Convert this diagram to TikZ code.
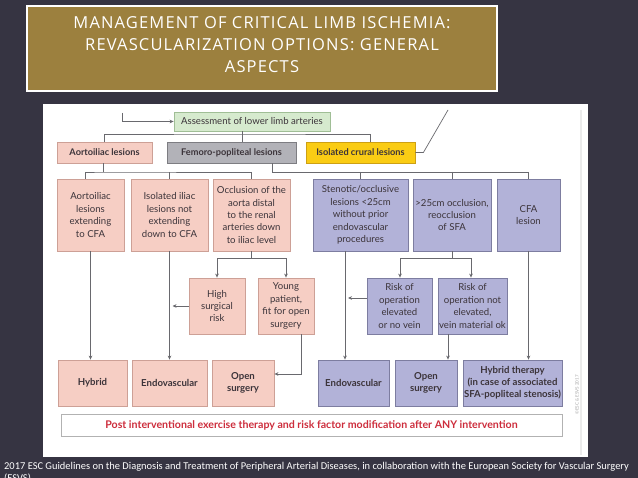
\documentclass[tikz,border=0pt]{standalone}
\usepackage{fontspec}
\setmainfont{Lato}
\newfontfamily\titlefont[LetterSpace=7]{Open Sans}
\newfontfamily\notefont{Carlito}
\usetikzlibrary{arrows.meta,positioning}

\definecolor{slidebg}{RGB}{54,52,66}
\definecolor{titlegold}{RGB}{156,128,62}
\definecolor{pinkfill}{RGB}{246,206,196}
\definecolor{pinkdraw}{RGB}{205,160,150}
\definecolor{lilacfill}{RGB}{178,178,216}
\definecolor{lilacdraw}{RGB}{125,125,160}
\definecolor{greyfill}{RGB}{178,178,184}
\definecolor{greydraw}{RGB}{125,125,130}
\definecolor{yellowfill}{RGB}{250,204,20}
\definecolor{yellowdraw}{RGB}{205,160,20}
\definecolor{greenfill}{RGB}{214,234,206}
\definecolor{greendraw}{RGB}{160,190,150}
\definecolor{inkgray}{RGB}{60,52,58}
\definecolor{wirecol}{RGB}{105,105,110}
\definecolor{alertred}{RGB}{205,45,60}

\begin{document}
\begin{tikzpicture}[
  x=1pt, y=-1pt,
  every node/.style={font=\fontsize{9.6}{12.4}\selectfont, text=inkgray},
  box/.style={rectangle, line width=0.8pt, align=center, inner sep=0.5pt},
  greenbox/.style={box, draw=greendraw, fill=greenfill, minimum height=19pt},
  headbox/.style={box, minimum height=21pt, font=\fontsize{9.2}{11}\selectfont\bfseries},
  pinkbox/.style={box, draw=pinkdraw, fill=pinkfill},
  lilacbox/.style={box, draw=lilacdraw, fill=lilacfill},
  tallbox/.style={minimum height=72pt},
  midbox/.style={minimum height=56pt},
  lowbox/.style={minimum height=46pt, font=\fontsize{9.6}{12}\selectfont\bfseries},
  wire/.style={draw=wirecol, line width=0.7pt},
  arrow/.style={wire, -{Stealth[length=4pt, width=3.6pt]}}
]

% Slide background
\fill[slidebg] (0,0) rectangle (638,478);
\useasboundingbox (0,0) rectangle (638,478);

% Title bar
\node[fill=titlegold, draw=white, line width=1.6pt, minimum width=470pt, minimum height=85pt] (titlebar) at (262,48.5) {};
\node[align=center, text=white, font=\titlefont\fontsize{16.5}{22}\selectfont] (title) at (262,44.5)
  {MANAGEMENT OF CRITICAL LIMB ISCHEMIA:\\REVASCULARIZATION OPTIONS: GENERAL\\ASPECTS};

% White figure panel
\fill[white] (43,104) rectangle (588,457);
\draw[black!8, line width=1.2pt] (581,110) -- (581,455);
\node[rotate=90, font=\fontsize{4.5}{5}\selectfont, text=black!35] (copy) at (577,395) {\textcopyright ESC \& ESVS 2017};

% Assessment and lesion types
\node[greenbox, minimum width=156pt] (assess) at (252,121.5) {Assessment of lower limb arteries};
\node[headbox, pinkbox, minimum width=95pt] (aorto) at (104.5,152.5) {Aortoiliac lesions};
\node[headbox, draw=greydraw, fill=greyfill, minimum width=129pt] (femoro) at (231.5,152.5) {Femoro-popliteal lesions};
\node[headbox, draw=yellowdraw, fill=yellowfill, minimum width=109pt] (crural) at (360.5,152.5) {Isolated crural lesions};

% Aortoiliac branch
\node[pinkbox, tallbox, minimum width=67pt] (boxA) at (90.5,215) {Aortoiliac\\lesions\\extending\\to CFA};
\node[pinkbox, tallbox, minimum width=77pt] (boxB) at (169.5,215) {Isolated iliac\\lesions not\\extending\\down to CFA};
\node[pinkbox, tallbox, minimum width=77pt] (boxC) at (251.5,215) {Occlusion of the\\aorta distal\\to the renal\\arteries down\\to iliac level};
\node[pinkbox, midbox, minimum width=56pt] (highrisk) at (217,306) {High\\surgical\\risk};
\node[pinkbox, midbox, minimum width=56pt] (young) at (286,306) {Young\\patient,\\fit for open\\surgery};
\node[pinkbox, lowbox, minimum width=69pt] (hybridA) at (92.5,383) {Hybrid};
\node[pinkbox, lowbox, minimum width=75pt] (endoA) at (169.5,383) {Endovascular};
\node[pinkbox, lowbox, minimum width=62pt] (openA) at (243,383) {Open\\surgery};

% Femoro-popliteal branch
\node[lilacbox, tallbox, minimum width=95pt] (stenotic) at (360.5,215) {Stenotic/occlusive\\lesions <25cm\\without prior\\endovascular\\procedures};
\node[lilacbox, tallbox, minimum width=78pt] (longocc) at (452,215) {>25cm occlusion,\\reocclusion\\of SFA};
\node[lilacbox, tallbox, minimum width=63pt] (cfa) at (528.5,215) {CFA\\lesion};
\node[lilacbox, midbox, minimum width=65pt] (riskhigh) at (399.5,306) {Risk of\\operation\\elevated\\or no vein};
\node[lilacbox, midbox, minimum width=69pt] (risklow) at (472.5,306) {Risk of\\operation not\\elevated,\\vein material ok};
\node[lilacbox, lowbox, minimum width=71pt] (endoF) at (353.5,383) {Endovascular};
\node[lilacbox, lowbox, minimum width=62pt] (openF) at (426,383) {Open\\surgery};
\node[lilacbox, lowbox, minimum width=99pt] (hybridF) at (512.5,383) {Hybrid therapy\\(in case of associated\\SFA-popliteal stenosis)};

% Follow-up bar
\node[box, draw=black!30, fill=white, minimum width=501pt, minimum height=22pt, text=alertred, font=\fontsize{10.6}{12}\selectfont\bfseries] (post) at (311.5,425)
  {Post interventional exercise therapy and risk factor modification after ANY intervention};

% Connectors at the top
\coordinate (inlet) at (122,113);
\coordinate (skew) at (448,110);
\coordinate (j1) at (242,134);
\coordinate (j2) at (103,172);
\coordinate (j3) at (272,172);
\draw[arrow] (inlet) |- (assess.west);
\draw[wire] (crural.east) -- ++(8,0) -- (skew);
\draw[wire] (assess.south -| j1) -- (femoro.north -| j1);
\draw[wire] (aorto.north) |- (j1) -| ([xshift=9.5pt]crural.north);

% Aortoiliac connectors
\draw[wire] (aorto.south -| j2) -- (j2);
\draw[wire] ([xshift=-5.5pt]boxA.north) |- (j2) -| (boxC.north);
\draw[wire] (boxB.north) -- (boxB.north |- j2);
\draw[wire] (boxC.south) -- ++(0,7) coordinate (j4);
\draw[arrow] (j4) -| (highrisk.north);
\draw[arrow] (j4) -| (young.north);
\draw[arrow] (boxA.south) -- (boxA.south |- hybridA.north);
\draw[arrow] (boxB.south) -- (boxB.south |- endoA.north);
\draw[arrow] (highrisk.west) -- ([xshift=3pt]highrisk.west -| boxB.south);
\draw[arrow] ([xshift=15pt]young.south) |- ([yshift=9pt]openA.east);

% Femoro-popliteal connectors
\coordinate (s1) at ([xshift=-15.5pt]stenotic.south);
\draw[wire] (femoro.south -| j3) -- (j3) -| (cfa.north);
\draw[wire] (stenotic.north |- j3) -- (stenotic.north);
\draw[wire] (longocc.north |- j3) -- (longocc.north);
\draw[wire] (longocc.south) -- ++(0,7) coordinate (j5);
\draw[arrow] (j5) -| ([xshift=0.5pt]riskhigh.north);
\draw[arrow] (j5) -| ([xshift=-1.5pt]risklow.north);
\draw[arrow] (s1) -- (s1 |- endoF.north);
\draw[arrow] ([yshift=8pt]riskhigh.west) -- ([xshift=3pt,yshift=8pt]riskhigh.west -| s1);
\draw[arrow] ([xshift=-24.5pt]risklow.south) -- ([xshift=-24.5pt]risklow.south |- openF.north);
\draw[arrow] (cfa.south) -- (cfa.south |- hybridF.north);

% Source line
\begin{scope}
\clip (0,0) rectangle (638,478);
\node[anchor=north west, align=left, inner sep=0pt, text=white, font=\notefont\fontsize{10.45}{12}\selectfont] (source) at (4,462)
  {2017 ESC Guidelines on the Diagnosis and Treatment of Peripheral Arterial Diseases, in collaboration with the European Society for Vascular Surgery\\(ESVS)};
\end{scope}

\end{tikzpicture}
\end{document}
